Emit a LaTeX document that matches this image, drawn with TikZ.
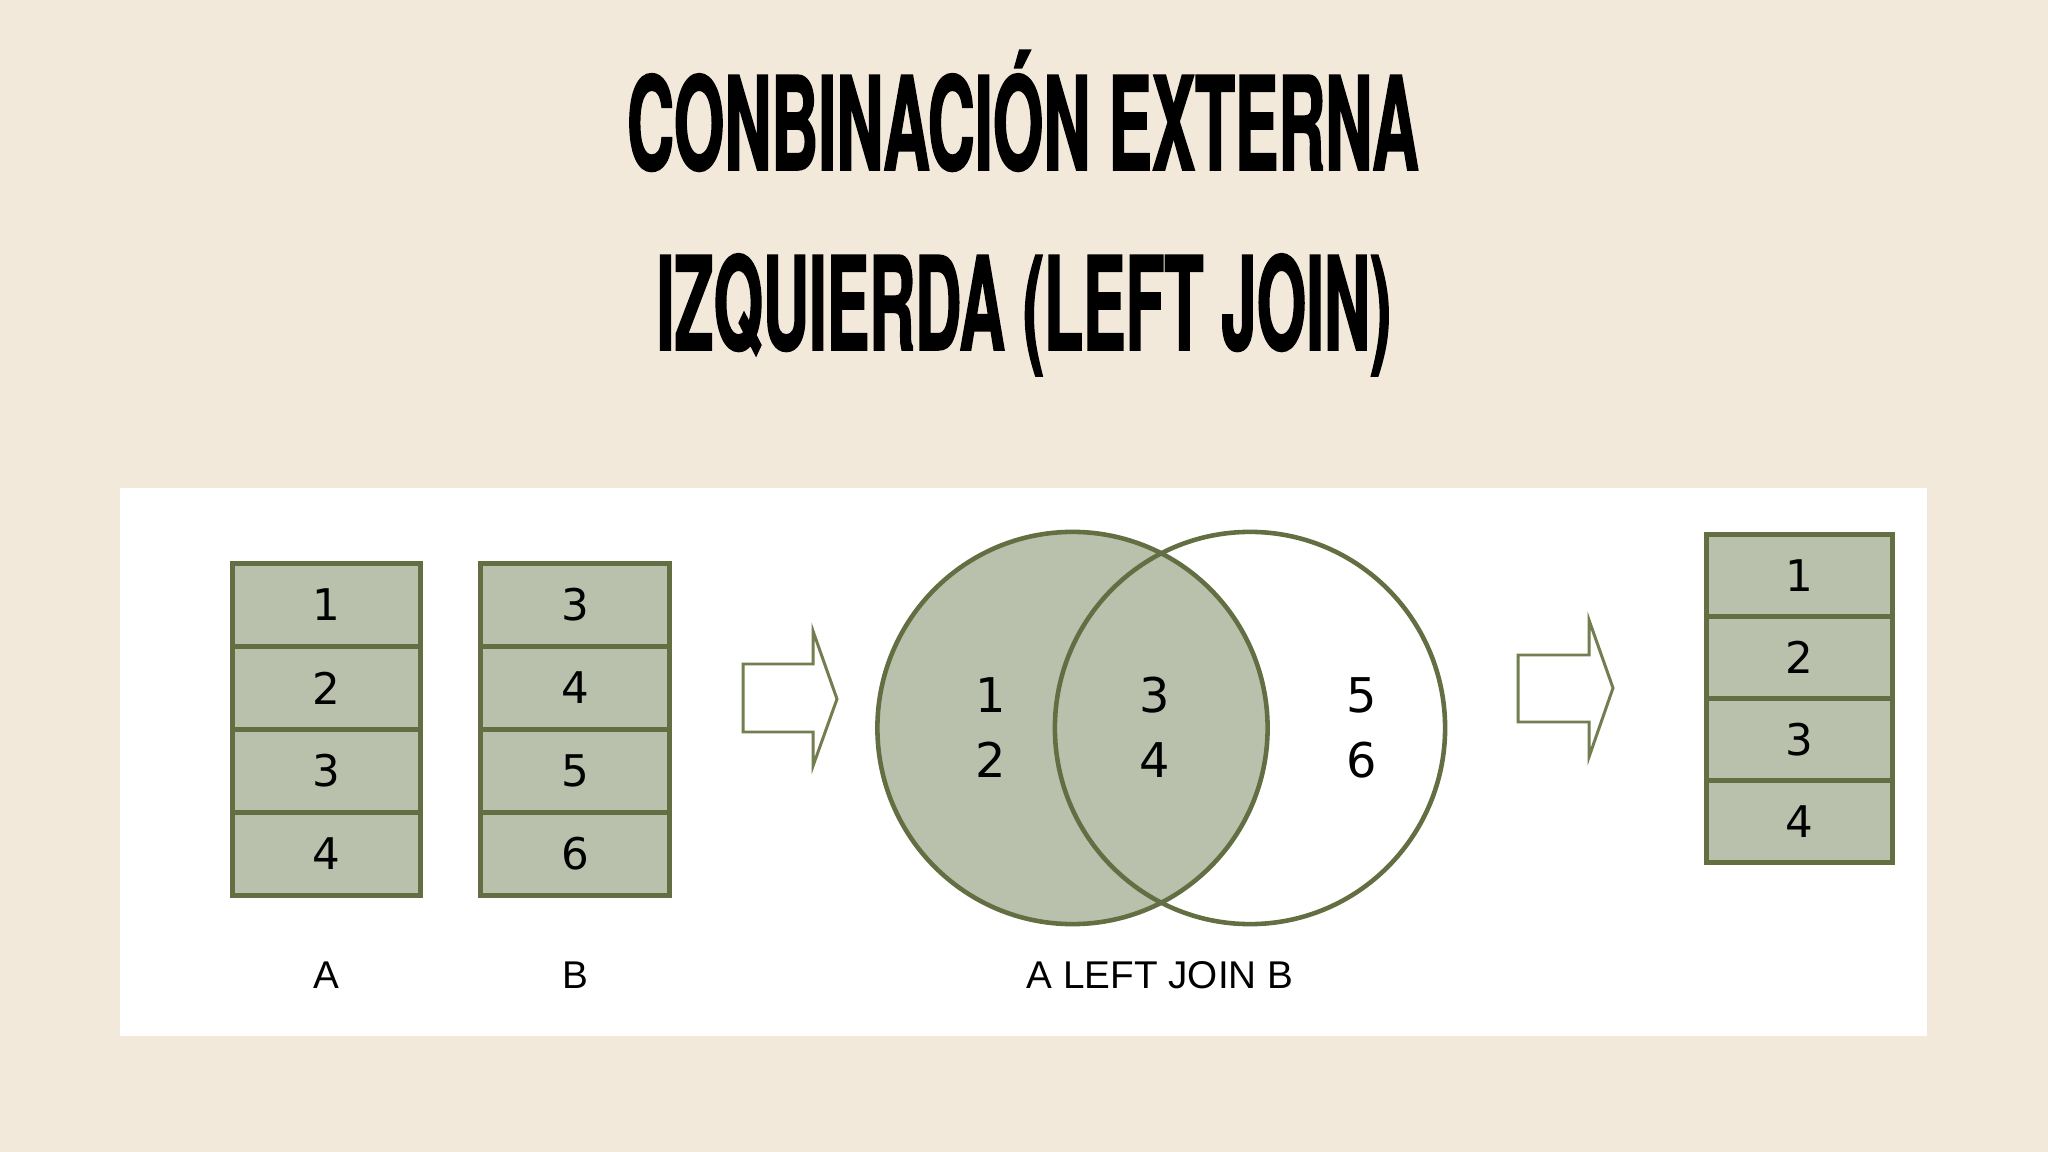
\documentclass[tikz,border=0pt]{standalone}
\usepackage{fontspec}
\setmainfont{Liberation Sans}
\newfontfamily\digitfamily{DejaVu Sans}
\newfontfamily\headingfamily[FakeStretch=0.5,FakeBold=1.2]{TeX Gyre Heros}
\usetikzlibrary{shapes.geometric}

\definecolor{bgbeige}{HTML}{F2E9DB}
\definecolor{cellfill}{HTML}{B9C1AD}
\definecolor{oliveline}{HTML}{636E42}
\definecolor{arrowline}{HTML}{727E50}

\newcommand\cellnumfont{\digitfamily\fontsize{12.4}{14}\selectfont}
\newcommand\vennnumfont{\digitfamily\fontsize{13.6}{15}\selectfont}
\newcommand\joinlabelfont{\fontsize{11}{13}\selectfont}
\newcommand\headingfont{\headingfamily\bfseries\fontsize{37}{40}\selectfont}

\begin{document}
\begin{tikzpicture}
   [x=0.01cm,y=-0.01cm,
   every node/.style={inner sep=0pt},
   cell/.style={draw=oliveline,fill=cellfill,line width=1.4pt,
     minimum width=1.88cm,minimum height=0.83cm,font=\cellnumfont},
   venn/.style={ellipse,draw=oliveline,line width=1.3pt,
     minimum width=3.9cm,minimum height=3.92cm},
   vennnum/.style={font=\vennnumfont},
   joinlabel/.style={font=\joinlabelfont},
   heading/.style={font=\headingfont,anchor=base},
   blockarrow/.style={draw=arrowline,line width=0.85pt,fill=white}]

   % page and panel
   \fill[bgbeige] (0,0) rectangle (2048,1152);
   \fill[white] (120,488) rectangle (1927,1036);

   \node[heading] (title1) at (1023,170) {CONBINACIÓN EXTERNA};
   \node[heading,xscale=0.98] (title2) at (1024,350) {IZQUIERDA (LEFT JOIN)};

   % tables A and B
   \foreach \v [count=\i] in {1,2,3,4}
     \node[cell] (a\i) at (326.5,522+83*\i) {\v};
   \foreach \v [count=\i] in {3,4,5,6}
     \node[cell] (b\i) at (575,522+83*\i) {\v};

   \node[joinlabel] (labA) at (326.5,975) {A};
   \node[joinlabel] (labB) at (575,975) {B};

   \draw[blockarrow] (743,664) -- (813,664) -- (813,631) -- (837,699)
     -- (813,766) -- (813,732) -- (743,732) -- cycle;

   % venn
   \node[venn,fill=cellfill] (vennA) at (1072.5,728) {};
   \node[venn] (vennB) at (1250,728) {};

   \node[vennnum] (v1) at (991,695) {1};
   \node[vennnum] (v2) at (991,760) {2};
   \node[vennnum] (v3) at (1155,695) {3};
   \node[vennnum] (v4) at (1155,760) {4};
   \node[vennnum] (v5) at (1362,695) {5};
   \node[vennnum] (v6) at (1362,760) {6};

   \node[joinlabel] (labAB) at (1160,975) {A LEFT JOIN B};

   \draw[blockarrow] (1518,655) -- (1589,655) -- (1589,620) -- (1613,688)
     -- (1589,757) -- (1589,722) -- (1518,722) -- cycle;

   % result
   \foreach \v [count=\i] in {1,2,3,4}
     \node[cell,minimum width=1.86cm,minimum height=0.82cm] (c\i)
       at (1799.5,493.5+82*\i) {\v};
\end{tikzpicture}
\end{document}
